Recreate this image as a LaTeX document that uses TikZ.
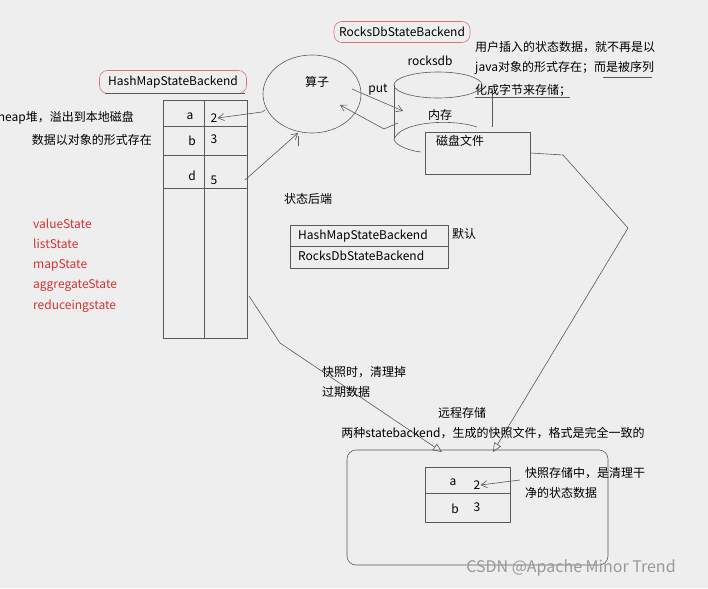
\documentclass[tikz,border=0pt]{standalone}
\usepackage{fontspec}
\setmainfont{Noto Sans CJK SC}
\usetikzlibrary{arrows.meta}
\definecolor{bg}{RGB}{238,238,238}
\definecolor{ln}{RGB}{90,90,90}
\definecolor{rd}{RGB}{215,50,50}
\definecolor{pill}{RGB}{215,120,120}
\begin{document}
\begin{tikzpicture}[x=1pt,y=-1pt,font=\fontsize{12}{14}\selectfont,
  txt/.style={inner sep=0pt,anchor=west},
  ctr/.style={inner sep=0pt},
  red/.style={txt,text=rd},
  ln/.style={draw=ln,line width=0.6pt},
  arr/.style={ln,-{Straight Barb[length=6pt,width=7pt]}},
  oarr/.style={ln,-{Triangle[open,length=9pt,width=8pt]}},
  pillbox/.style={draw=pill,rounded corners=8pt,line width=0.6pt,inner xsep=5pt,inner ysep=3pt}]
\fill[bg] (0,0) rectangle (708,588);
\useasboundingbox (0,0) rectangle (708,588);
% HashMap pill
\node[pillbox,minimum width=147pt,minimum height=23pt] (hmlabel) at (173,82) {HashMapStateBackend};
\draw[ln] (105,93) -- (245,93);
% table
\draw[ln] (163,100) rectangle (247,338);
\draw[ln] (204,100) -- (204,338);
\foreach \y in {126,155,188} \draw[ln] (163,\y) -- (247,\y);
\node[ctr] (ka) at (190,116) {a}; \node[ctr] (va) at (214,118) {2};
\node[ctr] (kb) at (192,141) {b}; \node[ctr] (vb) at (214,139) {3};
\node[ctr] (kd) at (192,176) {d}; \node[ctr] (vd) at (214,180) {5};
% left text
\node[inner sep=0pt,anchor=east] (heap) at (134,118) {heap堆，溢出到本地磁盘};
\node[inner sep=0pt,anchor=east] (obj) at (152,140) {数据以对象的形式存在};
% operator ellipse
\draw[ln] (312,94) ellipse [x radius=49pt,y radius=39pt];
\node[ctr] (op) at (317,82) {算子};
\coordinate (opL) at (265,110);
\draw[arr] (opL) -- (262,112) -- (va.east);
\coordinate (opB) at (298,133);
\draw[arr] (245,180) -- (opB);
\draw[ln] (298,136) -- (298,146);
% Rocks pill
\node[pillbox,minimum width=136pt,minimum height=21pt] (rdlabel) at (402,32) {RocksDbStateBackend};
% cylinder
\draw[ln] (438,85) ellipse [x radius=44pt,y radius=13pt];
\draw[ln] (394,85) -- (394,138);
\draw[ln] (492,90) -- (492,127);
\draw[ln] (394,140) .. controls (398,122) and (450,118) .. (477,127);
\draw[ln] (394,140) .. controls (397,146) and (410,151) .. (421,152);
\node[ctr] (rocks) at (430,61) {rocksdb};
\node[ctr] (mem) at (440,115) {内存};
\node[ctr] (put) at (378,90) {put};
\node[draw=ln,line width=0.6pt,minimum width=105pt,minimum height=42pt] (disk) at (478,153) {};
\node[ctr] (disktxt) at (460,141) {磁盘文件};
\draw[arr] (352,89) -- (403,111);
\draw[arr] (398,123) -- (384,129) -- (340,105);
% right text
\node[txt] (u1) at (475,47) {用户插入的状态数据，就不再是以};
\node[txt] (u2) at (475,68) {java对象的形式存在；而是被序列};
\node[txt] (u3) at (475,90) {化成字节来存储；};
\draw[ln] (603,77) -- (652,77);
\draw[ln] (475,97) -- (570,97);
% red list
\node[red] (s1) at (33,224) {valueState};
\node[red] (s2) at (33,244) {listState};
\node[red] (s3) at (33,265) {mapState};
\node[red] (s4) at (33,286) {aggregateState};
\node[red] (s5) at (33,306) {reduceingstate};
% state backend table
\node[txt] (sb) at (284,199) {状态后端};
\draw[ln] (290,225) rectangle (448,268);
\draw[ln] (290,246) -- (448,246);
\node[txt] (t1) at (298,236) {HashMapStateBackend};
\node[txt] (t2) at (298,256) {RocksDbStateBackend};
\node[txt] (def) at (452,234) {默认};
% snapshot arrows
\coordinate (c1) at (280,343);
\draw[oarr] (249,296) -- (c1) -- (442,452);
\node[txt] (q1) at (322,372) {快照时，清理掉};
\node[txt] (q2) at (322,392) {过期数据};
\draw[oarr] (disk.east) -- (563,155) -- (628,228) -- (493,452);
\node[ctr] (remote) at (462,413) {远程存储};
\node[ctr] (both) at (493,433) {两种statebackend，生成的快照文件，格式是完全一致的};
% remote box
\draw[ln,rounded corners=9pt] (347,450) rectangle (608,565);
\draw[ln] (425,467) rectangle (510,522);
\draw[ln] (425,493) -- (510,493);
\node[ctr] (ra) at (453,482) {a}; \node[ctr] (r2) at (477,485) {2};
\node[ctr] (rb) at (455,509) {b}; \node[ctr] (r3) at (477,507) {3};
\node[txt] (k1) at (525,473) {快照存储中，是清理干};
\node[txt] (k2) at (525,493) {净的状态数据};
\draw[arr] (520,480) -- (r2.east);
\node[ctr,text=gray!80,font=\fontsize{16}{18}\selectfont] (wm) at (571,568) {CSDN @Apache Minor Trend};
\end{tikzpicture}
\end{document}
